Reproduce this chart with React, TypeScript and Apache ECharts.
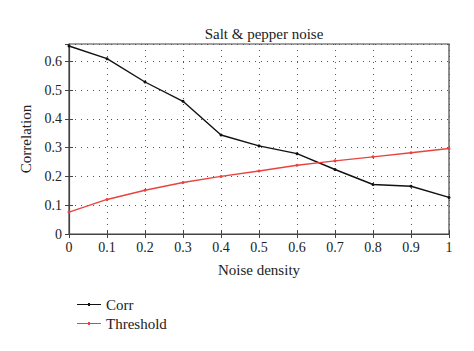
import React, { useEffect, useRef } from "react";
import * as echarts from "echarts";

const noiseDensity = [0, 0.1, 0.2, 0.3, 0.4, 0.5, 0.6, 0.7, 0.8, 0.9, 1];
const corrValues = [0.653, 0.609, 0.528, 0.461, 0.344, 0.306, 0.279, 0.224, 0.172, 0.166, 0.127];
const thresholdValues = [0.076, 0.12, 0.152, 0.179, 0.2, 0.219, 0.239, 0.254, 0.268, 0.282, 0.297];
const seriesNames = ["Corr", "Threshold"];

const FONT = "'Liberation Serif', 'DejaVu Serif', serif";
const LEGEND_ICON =
  "path://M0,1.4 H24 V2.6 H0 Z M11,0.4 H13 V1.4 H11 Z M11,2.6 H13 V3.6 H11 Z";

export default function App() {
  const ref = useRef<HTMLDivElement>(null);
  useEffect(() => {
    if (!ref.current) return;
    const chart = echarts.init(ref.current, undefined, { renderer: "svg" });
    const axisColor = "#444";
    const tickLabel = { fontFamily: FONT, fontSize: 14, color: "#222" };
    chart.setOption({
      animation: false,
      backgroundColor: "#fff",
      title: {
        text: "Salt & pepper noise",
        left: 259,
        textAlign: "center",
        top: 21,
        textStyle: { fontFamily: FONT, fontSize: 15, fontWeight: "normal", color: "#222" },
      },
      grid: { left: 69, right: 25, top: 44, bottom: 117, show: true, borderColor: axisColor, borderWidth: 1.2 },
      legend: {
        orient: "vertical",
        left: 72,
        top: 292,
        icon: LEGEND_ICON,
        itemWidth: 24,
        itemHeight: 4,
        itemGap: 4,
        textStyle: { fontFamily: FONT, fontSize: 15, color: "#222", padding: [0, 0, 0, 0] },
        data: seriesNames,
      },
      xAxis: [
        {
          type: "value",
          min: 0,
          max: 1,
          interval: 0.1,
          name: "Noise density",
          nameLocation: "middle",
          nameGap: 28,
          nameTextStyle: { fontFamily: FONT, fontSize: 15, color: "#222" },
          axisLine: { show: true, lineStyle: { color: axisColor, width: 1.2 } },
          axisTick: { show: true, inside: true, length: 4, lineStyle: { color: axisColor } },
          axisLabel: { ...tickLabel, margin: 6 },
          splitLine: { show: true, lineStyle: { type: [1, 5], color: "#555", width: 1 } },
        },
        {
          type: "value",
          position: "top",
          min: 0,
          max: 1,
          interval: 0.1,
          axisLine: { show: false },
          axisTick: { show: true, inside: true, length: 4, lineStyle: { color: axisColor } },
          axisLabel: { show: false },
          splitLine: { show: false },
        },
      ],
      yAxis: [
        {
          type: "value",
          min: 0,
          max: 0.66,
          interval: 0.1,
          name: "Correlation",
          nameLocation: "middle",
          nameGap: 32,
          nameTextStyle: { fontFamily: FONT, fontSize: 15, color: "#222" },
          axisLine: { show: true, lineStyle: { color: axisColor, width: 1.2 } },
          axisTick: { show: true, inside: true, length: 4, lineStyle: { color: axisColor } },
          axisLabel: { ...tickLabel, margin: 7, showMaxLabel: false },
          splitLine: { show: true, lineStyle: { type: [1, 5], color: "#555", width: 1 } },
        },
        {
          type: "value",
          position: "right",
          min: 0,
          max: 0.66,
          interval: 0.1,
          axisLine: { show: false },
          axisTick: { show: true, inside: true, length: 4, lineStyle: { color: axisColor } },
          axisLabel: { show: false },
          splitLine: { show: false },
        },
      ],
      series: [
        {
          name: seriesNames[0],
          type: "line",
          data: noiseDensity.map((x, i) => [x, corrValues[i]]),
          symbol: "circle",
          symbolSize: 3,
          lineStyle: { color: "#111", width: 1.4 },
          itemStyle: { color: "#111" },
        },
        {
          name: seriesNames[1],
          type: "line",
          data: noiseDensity.map((x, i) => [x, thresholdValues[i]]),
          symbol: "circle",
          symbolSize: 3,
          lineStyle: { color: "#e8433f", width: 1.4 },
          itemStyle: { color: "#e8433f" },
        },
      ],
    });
    return () => chart.dispose();
  }, []);
  return <div ref={ref} style={{ width: 474, height: 351, position: "absolute", left: 0, top: 0 }} />;
}
